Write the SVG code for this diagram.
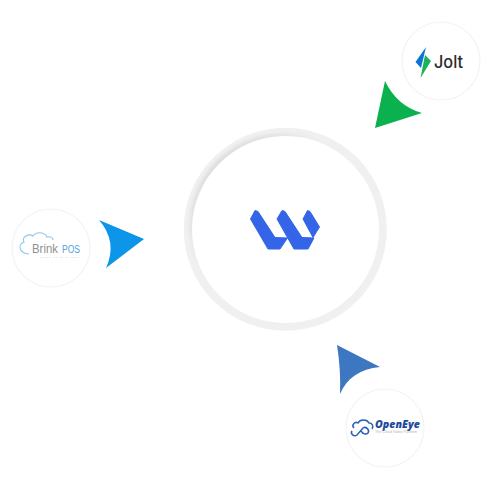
<svg xmlns="http://www.w3.org/2000/svg" width="500" height="500" viewBox="0 0 500 500">
<style>
.sat{fill:#fff;stroke:#f3f3f3;stroke-width:1.2}
text{font-family:"Liberation Sans",Arial,sans-serif}
</style>
<defs>
<linearGradient id="ringShade" x1="0.1" y1="0.1" x2="0.7" y2="0.7">
<stop offset="0" stop-color="#dadada"/><stop offset="0.45" stop-color="#efefef"/><stop offset="1" stop-color="#f0f0f0"/>
</linearGradient>
<filter id="soft" x="-10%" y="-10%" width="120%" height="120%"><feGaussianBlur stdDeviation="1.500"/></filter>
</defs>
<g id="connectors">
<path d="M385 81Q397 106 422 113L375 128Z" fill="#0bb04f"/>
<path d="M99 220L144 239L106 268Q118 242 99 220Z" fill="#0c95e9"/>
<path d="M337 345L380 367Q350 370 340 394Q341 370 337 345Z" fill="#3d77c2"/>
</g>
<g id="hub">
<circle cx="285.300" cy="229.300" r="101.500" fill="#f0f0f0"/>
<circle cx="284" cy="228" r="95" fill="url(#ringShade)" filter="url(#soft)"/>
<circle cx="285.500" cy="229.500" r="93.500" fill="#fff"/>
<g fill="#3465e8" stroke="#3465e8" stroke-width="1" stroke-linejoin="round">
<path d="M250.500 219L255 210.500L258 211.500L275 237.500L287.500 238L280 249L268 249Z"/>
<path d="M277 219L282 210.500L285 211.500L302 237.500L314 238L308 249L294 249Z"/>
<path d="M303 219L307.500 210.500L310 211.500L319.500 227L313 237.500Z"/>
</g>
</g>
<g id="jolt">
<circle class="sat" cx="441" cy="61" r="39"/>
<path d="M415.500 62L426 47L421 68Z" fill="#0d74d1"/>
<path d="M420.500 78L425 55L431 61Z" fill="#19b25a"/>
<text x="434" y="68" font-size="17" fill="#2b2b2b" textLength="29" lengthAdjust="spacingAndGlyphs" style="font-family:Inter,'Liberation Sans',sans-serif;font-weight:500">Jolt</text>
</g>
<g id="brink">
<circle class="sat" cx="51" cy="248" r="39"/>
<path d="M29 254C18 253 18 244 24 242C21 237 29 233 33 236C36 231 45 232 47 237C51 236 53 238 53 240" fill="none" stroke="#8cc6ef" stroke-width="1.100"/>
<text x="32" y="253" font-size="12.500" fill="#8f8f8f" textLength="26" lengthAdjust="spacingAndGlyphs">Brink</text>
<text x="62" y="253" font-size="10" fill="#4f9fe0" textLength="18" lengthAdjust="spacingAndGlyphs">POS</text>
<text x="40" y="257.500" font-size="2.500" fill="#c2c2c2" textLength="39">cloud point of sale</text>
</g>
<g id="openeye">
<circle class="sat" cx="385" cy="428" r="39"/>
<path d="M354 428C351 425 355 421 358 423C360 419 367 419 369 423C372 423 374 426 372 429M352 431C350 434 354 437 357 435L363 428C366 426 370 430 368 433C366 435 363 434 361 431" fill="none" stroke="#2b5fb8" stroke-width="1.500"/>
<text x="375" y="428" font-size="11" font-style="italic" fill="#1f4a9c" textLength="45" lengthAdjust="spacingAndGlyphs" style="font-family:'Open Sans','Liberation Sans',sans-serif;font-weight:800">OpenEye</text>
<text x="375" y="433" font-size="3.500" fill="#b5b5b5" textLength="42" lengthAdjust="spacingAndGlyphs">The Cloud Video Platform</text>
</g>
</svg>
